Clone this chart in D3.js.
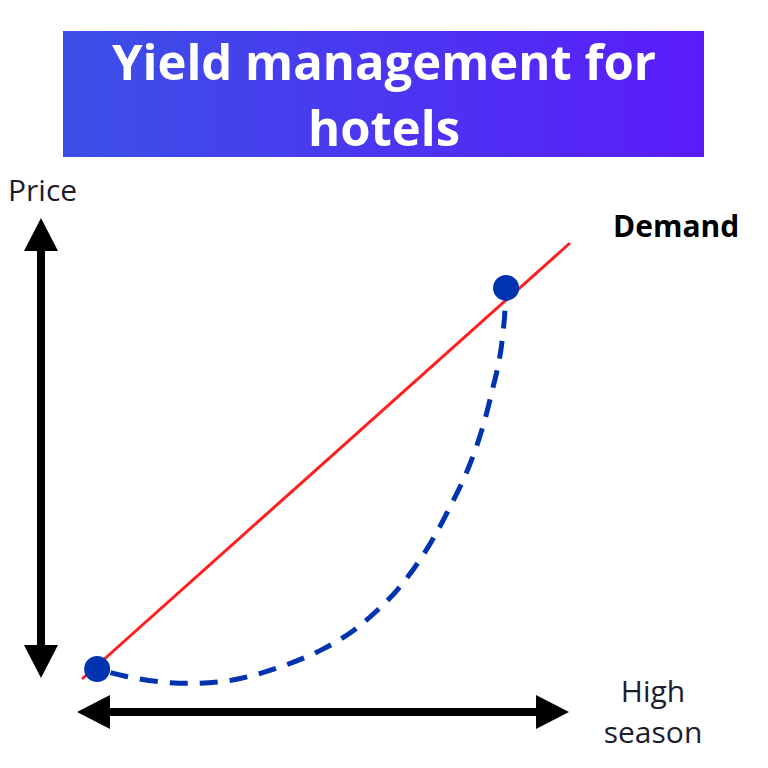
<!DOCTYPE html>
<html>
<head>
<meta charset="utf-8">
<script src="https://cdn.jsdelivr.net/npm/d3@7"></script>
<style>
  html, body { margin: 0; padding: 0; background: #fff; }
  svg { display: block; }
</style>
</head>
<body>
<svg id="chart"></svg>
<script>
//chart data
const titleLines = ["Yield management for", "hotels"];
const yLabel = "Price";
const xLabelLines = ["High", "season"];
const demandLabel = "Demand";
//demand line, start and end (season %, price %)
const demandX = [0, 100];
const demandY = [0, 100];
//yield curve points
const yieldX = [3.1, 8.8, 16.6, 23.8, 30.7, 37.1, 43.2, 49.4, 55.3, 60.2, 64.8, 68.9, 72.3, 75.4, 78.5, 80.9, 83.0, 84.2, 85.7, 86.7, 86.9];
const yieldY = [2.3, 0.5, -0.9, -1.1, -0.5, 1.4, 3.7, 6.7, 10.6, 15.3, 20.4, 26.6, 32.6, 39.4, 46.3, 53.2, 61.0, 67.0, 73.2, 83.5, 89.7];
//the two highlighted points
const dotX = [3.1, 86.9];
const dotY = [2.3, 89.7];

const width = 768,
  height = 768;

const svg = d3.select("#chart").attr("width", width).attr("height", height);

//scales
const x = d3.scaleLinear().domain([0, 100]).range([82, 570]);
const y = d3.scaleLinear().domain([0, 100]).range([679, 243]);

//title banner
const grad = svg
  .append("defs")
  .append("linearGradient")
  .attr("id", "titleGrad")
  .attr("x1", "0%")
  .attr("x2", "100%");
grad.append("stop").attr("offset", "0%").attr("stop-color", "#3b50e7");
grad.append("stop").attr("offset", "100%").attr("stop-color", "#5b1cfb");

svg
  .append("rect")
  .attr("x", 63)
  .attr("y", 31)
  .attr("width", 641)
  .attr("height", 126)
  .attr("fill", "url(#titleGrad)");

svg
  .selectAll(".title")
  .data(titleLines)
  .join("text")
  .attr("class", "title")
  .attr("x", 384)
  .attr("y", (d, i) => 80 + i * 66)
  .attr("text-anchor", "middle")
  .attr("font-family", "Open Sans")
  .attr("font-weight", 700)
  .attr("font-size", 49)
  .attr("fill", "#fff")
  .text((d) => d);

//axis arrows
const axisX = 41,
  axisY = 712;
const arrowHalf = 17,
  arrowLen = 33;

function arrow(x1, y1, x2, y2) {
  //double headed arrow drawn as shaft + two triangles
  const g = svg.append("g");
  const ang = Math.atan2(y2 - y1, x2 - x1);
  const ux = Math.cos(ang),
    uy = Math.sin(ang);
  g.append("line")
    .attr("x1", x1 + ux * arrowLen * 0.8)
    .attr("y1", y1 + uy * arrowLen * 0.8)
    .attr("x2", x2 - ux * arrowLen * 0.8)
    .attr("y2", y2 - uy * arrowLen * 0.8)
    .attr("stroke", "#000")
    .attr("stroke-width", 8);
  [
    [x1, y1, -1],
    [x2, y2, 1],
  ].forEach(([tx, ty, s]) => {
    const bx = tx - s * ux * arrowLen,
      by = ty - s * uy * arrowLen;
    g.append("path")
      .attr(
        "d",
        d3.line()([
          [tx, ty],
          [bx - uy * arrowHalf, by + ux * arrowHalf],
          [bx + uy * arrowHalf, by - ux * arrowHalf],
        ]) + "Z"
      )
      .attr("fill", "#000");
  });
}
arrow(axisX, 218, axisX, 678); //price axis
arrow(77, axisY, 569, axisY); //season axis

//demand line
svg
  .append("line")
  .attr("x1", x(demandX[0]))
  .attr("y1", y(demandY[0]))
  .attr("x2", x(demandX[1]))
  .attr("y2", y(demandY[1]))
  .attr("stroke", "#ff1f1f")
  .attr("stroke-width", 3);

//yield curve
const yieldPts = yieldX.map((d, i) => [d, yieldY[i]]);
svg
  .append("path")
  .datum(yieldPts)
  .attr(
    "d",
    d3
      .line()
      .x((d) => x(d[0]))
      .y((d) => y(d[1]))
      .curve(d3.curveBasis)
  )
  .attr("fill", "none")
  .attr("stroke", "#0033b0")
  .attr("stroke-width", 5)
  .attr("stroke-dasharray", "18 12")
  .attr("stroke-dashoffset", -14);

//dots
svg
  .selectAll(".dot")
  .data(dotX)
  .join("circle")
  .attr("class", "dot")
  .attr("cx", (d) => x(d))
  .attr("cy", (d, i) => y(dotY[i]))
  .attr("r", 13)
  .attr("fill", "#0033b0");

//labels
svg
  .append("text")
  .attr("x", 8)
  .attr("y", 201)
  .attr("font-family", "Open Sans")
  .attr("font-size", 30)
  .attr("fill", "#1c1c2e")
  .text(yLabel);

svg
  .append("text")
  .attr("x", 613)
  .attr("y", 237)
  .attr("font-family", "Open Sans")
  .attr("font-weight", 700)
  .attr("font-size", 30)
  .attr("fill", "#000")
  .text(demandLabel);

svg
  .selectAll(".xlab")
  .data(xLabelLines)
  .join("text")
  .attr("class", "xlab")
  .attr("x", 653)
  .attr("y", (d, i) => 702 + i * 41)
  .attr("text-anchor", "middle")
  .attr("font-family", "Open Sans")
  .attr("font-size", 30)
  .attr("fill", "#1c1c2e")
  .text((d) => d);
</script>
</body>
</html>
